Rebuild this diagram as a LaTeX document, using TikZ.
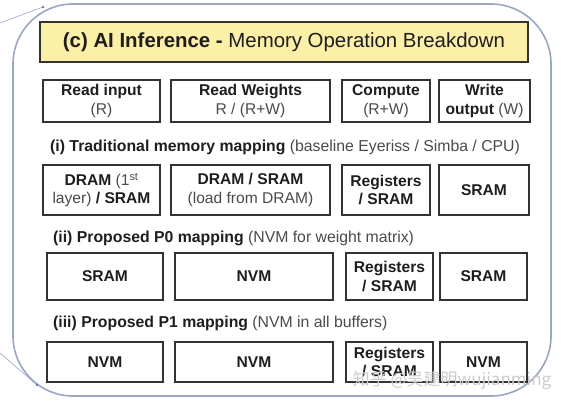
\documentclass[tikz,border=0pt]{standalone}
\usepackage{fontspec}
\setmainfont{Liberation Sans}
\newfontfamily\cjk{Noto Sans CJK SC}
\usepackage{tikz}
\usepackage{xcolor}

\definecolor{frameblue}{HTML}{9AA6C8}
\definecolor{titleyellow}{HTML}{FCEFA6}
\definecolor{boxline}{HTML}{333333}
\definecolor{txtdark}{HTML}{1E1E1E}
\definecolor{txtgray}{HTML}{4A4A4A}

\newcommand{\lite}[1]{{\mdseries\color{txtgray}#1}}

\tikzset{
  frame/.style={draw=frameblue, line width=1.6pt},
  titlebox/.style={draw=boxline, line width=1.6pt, fill=titleyellow, text=txtdark,
    inner sep=0pt, font=\fontsize{20.4}{23}\selectfont},
  opbox/.style={draw=boxline, line width=1.8pt, fill=white, align=center, text=txtdark,
    inner sep=0pt, font=\fontsize{15.6}{18.5}\selectfont\bfseries},
  rowlabel/.style={anchor=west, inner sep=0pt, text=txtdark,
    font=\fontsize{15.8}{18}\selectfont\bfseries},
  watermark/.style={text=gray!40, inner sep=0pt, font=\cjk\fontsize{17}{20}\selectfont}
}

\begin{document}
\begin{tikzpicture}[x=1pt, y=-1pt]

    \useasboundingbox (0,0) rectangle (561,406);

    % Outer frame and the stray connector ends
    \draw[frame, rounded corners=60pt] (13,4) rectangle (551,396);
    \coordinate (D1) at (43, 7);
    \coordinate (D2) at (37, 385);
    \draw[frameblue, line width=0.6pt] (0, 23) -- (D1);
    \draw[frameblue, line width=0.6pt] (0, 353) -- (D2);
    \fill[frameblue!70!blue] (D1) circle (1.3pt);
    \fill[frameblue!70!blue] (D2) circle (1.3pt);

    % Title
    \node[titlebox, minimum width=488pt, minimum height=40pt] (title) at (284, 42)
        {\textbf{(c) AI Inference -} Memory Operation Breakdown};

    % Row 1: operations
    \node[opbox, minimum width=117pt, minimum height=42pt] (op1) at (101.5, 101) {Read input\\\lite{(R)}};
    \node[opbox, minimum width=159pt, minimum height=42pt] (op2) at (250.5, 101) {Read Weights\\\lite{R / (R+W)}};
    \node[opbox, minimum width=88pt,  minimum height=42pt] (op3) at (386, 101)   {Compute\\\lite{(R+W)}};
    \node[opbox, minimum width=91pt,  minimum height=42pt] (op4) at (484.5, 101) {Write\\output \lite{(W)}};

    % Row 2: traditional mapping
    \node[rowlabel] (lbl1) at (50, 147) {(i) Traditional memory mapping \lite{(baseline Eyeriss / Simba / CPU)}};
    \node[opbox, minimum width=117pt, minimum height=50pt] (tm1) at (101.5, 190) {DRAM \lite{(1\textsuperscript{st}}\\\lite{layer)} / SRAM};
    \node[opbox, minimum width=159pt, minimum height=50pt] (tm2) at (250.5, 190) {DRAM / SRAM\\\lite{(load from DRAM)}};
    \node[opbox, minimum width=88pt,  minimum height=50pt] (tm3) at (386, 190)   {Registers\\/ SRAM};
    \node[opbox, minimum width=90pt,  minimum height=50pt] (tm4) at (484, 190)   {SRAM};

    % Row 3: P0 mapping
    \node[rowlabel] (lbl2) at (53, 238) {(ii) Proposed P0 mapping \lite{(NVM for weight matrix)}};
    \node[opbox, minimum width=116pt, minimum height=47pt] (pa1) at (105, 276.5)   {SRAM};
    \node[opbox, minimum width=158pt, minimum height=47pt] (pa2) at (254, 276.5)   {NVM};
    \node[opbox, minimum width=87pt,  minimum height=47pt] (pa3) at (389.5, 276.5) {Registers\\/ SRAM};
    \node[opbox, minimum width=87pt,  minimum height=47pt] (pa4) at (483.5, 276.5) {SRAM};

    % Row 4: P1 mapping
    \node[rowlabel] (lbl3) at (53, 323) {(iii) Proposed P1 mapping \lite{(NVM in all buffers)}};
    \node[opbox, minimum width=116pt, minimum height=40pt] (pb1) at (105, 362)   {NVM};
    \node[opbox, minimum width=158pt, minimum height=40pt] (pb2) at (254, 362)   {NVM};
    \node[opbox, minimum width=87pt,  minimum height=40pt] (pb3) at (389.5, 362) {Registers\\/ SRAM};
    \node[opbox, minimum width=87pt,  minimum height=40pt] (pb4) at (483.5, 362) {NVM};

    % Watermark
    \node[watermark] (wm) at (452, 380) {知乎 @吴建明wujianming};

\end{tikzpicture}
\end{document}
